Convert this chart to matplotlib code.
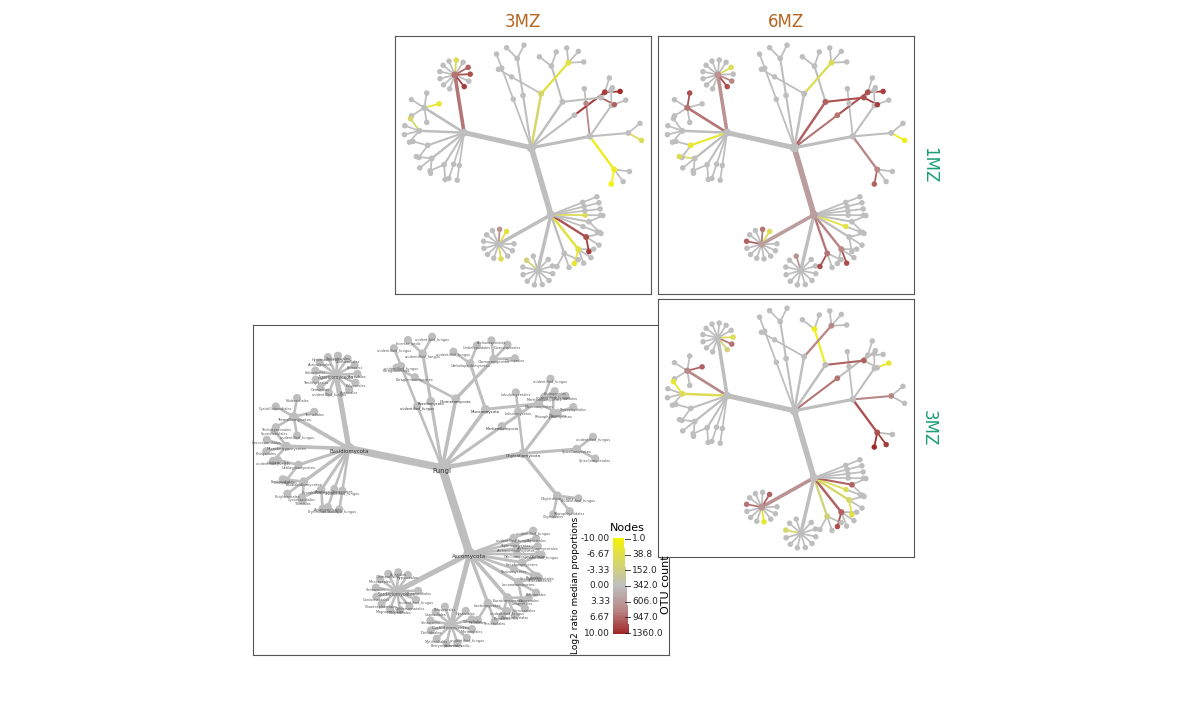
import numpy as np
import matplotlib.pyplot as plt
from matplotlib.colors import LinearSegmentedColormap

# taxonomy: phylum -> class -> orders
tree = {
    "Ascomycota": {
        "Sordariomycetes": ["Hypocreales", "Xylariales", "Glomerellales", "Microascales", "Sordariales",
                            "Coniochaetales", "Chaetosphaeriales", "Magnaporthales", "Diaporthales",
                            "Ophiostomatales", "unidentified_fungus", "Myrmecridiales"],
        "Dothideomycetes": ["Pleosporales", "Capnodiales", "Venturiales", "Dothideales", "Mytilinidiales",
                            "Botryosphaeriales", "Incertae_sedis", "unidentified_fungus", "Myriangiales",
                            "Tubeufiales", "Hysteriales"],
        "Leotiomycetes": ["Helotiales", "Thelebolales", "unidentified_fungus"],
        "Eurotiomycetes": ["Eurotiales", "Chaetothyriales", "Verrucariales", "Onygenales"],
        "Lecanoromycetes": ["Lecanorales", "Peltigerales", "Teloschistales"],
        "Pezizomycetes": ["Pezizales"],
        "Saccharomycetes": ["Saccharomycetales", "unidentified_fungus"],
        "Orbiliomycetes": ["Orbiliales"],
        "Archaeorhizomycetes": ["Archaeorhizomycetales"],
        "Taphrinomycetes": ["Taphrinales"],
        "unidentified_fungus": ["unidentified_fungus"],
    },
    "Chytridiomycota": {
        "Chytridiomycetes": ["Chytridiales", "Rhizophlyctidales", "unidentified_fungus"],
        "Spizellomycetes": ["Spizellomycetales", "unidentified_fungus"],
        "Rhizophydiomycetes": ["Rhizophydiales", "unidentified_fungus"],
        "Lobulomycetes": ["Lobulomycetales"],
    },
    "Mortierellomycota": {"Mortierellomycetes": ["Mortierellales", "unidentified_fungus"]},
    "Mucoromycota": {"Mucoromycetes": ["Mucorales", "Endogonales"],
                     "Umbelopsidomycetes": ["Umbelopsidales", "unidentified_fungus"]},
    "Glomeromycota": {"Glomeromycetes": ["Glomerales", "Diversisporales", "Archaeosporales"],
                      "Paraglomeromycetes": ["Paraglomerales"]},
    "Rozellomycota": {"unidentified_fungus": ["unidentified_fungus", "Incertae_sedis"]},
    "unidentified_fungus": {"unidentified_fungus": ["unidentified_fungus"]},
    "Basidiomycota": {
        "Agaricomycetes": ["Agaricales", "Polyporales", "Russulales", "Boletales", "Cantharellales",
                           "Thelephorales", "Hymenochaetales", "Auriculariales", "Sebacinales",
                           "Trechisporales", "Geastrales", "unidentified_fungus"],
        "Tremellomycetes": ["Tremellales", "Filobasidiales", "Cystofilobasidiales", "Trichosporonales",
                            "unidentified_fungus"],
        "Microbotryomycetes": ["Sporidiobolales", "Leucosporidiales", "Kriegeriales", "unidentified_fungus"],
        "Ustilaginomycetes": ["Ustilaginales", "Urocystidales"],
        "Exobasidiomycetes": ["Exobasidiales", "Entylomatales", "Tilletiales"],
        "Cystobasidiomycetes": ["Cystobasidiales", "Erythrobasidiales"],
        "Agaricostilbomycetes": ["Agaricostilbales"],
        "unidentified_fungus": ["unidentified_fungus"],
    },
}

panel_rows = ["1MZ", "1MZ", "3MZ"]
panel_cols = ["3MZ", "6MZ", "6MZ"]

# log2 ratio of median proportions (nodes not listed are ~0)
diff_3_1 = {
    "Basidiomycota/Agaricomycetes": 6, "Basidiomycota/Agaricomycetes/Agaricales": 9,
    "Basidiomycota/Agaricomycetes/Russulales": 8, "Basidiomycota/Agaricomycetes/Boletales": 7,
    "Basidiomycota/Agaricomycetes/Thelephorales": -6, "Basidiomycota/Tremellomycetes/Tremellales": -8,
    "Basidiomycota/Microbotryomycetes/Sporidiobolales": -5,
    "Chytridiomycota/Chytridiomycetes": -9, "Chytridiomycota/Chytridiomycetes/Chytridiales": -10,
    "Chytridiomycota/Spizellomycetes/Spizellomycetales": -6, "Chytridiomycota/Lobulomycetes": 5,
    "Mortierellomycota/Mortierellomycetes": 9, "Mortierellomycota/Mortierellomycetes/Mortierellales": 10,
    "Mucoromycota/Mucoromycetes/Mucorales": 7, "Glomeromycota": -5, "Glomeromycota/Glomeromycetes": -7,
    "Ascomycota/Lecanoromycetes": 8, "Ascomycota/Lecanoromycetes/Lecanorales": 9,
    "Ascomycota/Eurotiomycetes": -7, "Ascomycota/Eurotiomycetes/Eurotiales": -8,
    "Ascomycota/Sordariomycetes/Hypocreales": -7, "Ascomycota/Sordariomycetes/Xylariales": 4,
    "Ascomycota/Sordariomycetes/Diaporthales": -6, "Ascomycota/Dothideomycetes/Capnodiales": -4,
    "Ascomycota/Orbiliomycetes": -6,
}
diff_6_1 = {
    "Basidiomycota/Agaricomycetes": 4, "Basidiomycota/Agaricomycetes/Agaricales": 8,
    "Basidiomycota/Agaricomycetes/Polyporales": 5, "Basidiomycota/Agaricomycetes/Boletales": -6,
    "Basidiomycota/Tremellomycetes": 6, "Basidiomycota/Tremellomycetes/Filobasidiales": 8,
    "Basidiomycota/Ustilaginomycetes": -8, "Basidiomycota/Exobasidiomycetes/Exobasidiales": -6,
    "Chytridiomycota/Chytridiomycetes": 5, "Chytridiomycota/Chytridiomycetes/Chytridiales": 7,
    "Chytridiomycota/Spizellomycetes/Spizellomycetales": -9,
    "Mortierellomycota": 6, "Mortierellomycota/Mortierellomycetes": 8,
    "Mortierellomycota/Mortierellomycetes/Mortierellales": 9, "Mucoromycota": 7,
    "Mucoromycota/Mucoromycetes": 8, "Mucoromycota/Mucoromycetes/Mucorales": 9,
    "Glomeromycota/Glomeromycetes": -6, "Ascomycota": 3, "Ascomycota/Leotiomycetes": 6,
    "Ascomycota/Leotiomycetes/Helotiales": 8, "Ascomycota/Eurotiomycetes": 5,
    "Ascomycota/Eurotiomycetes/Chaetothyriales": 8, "Ascomycota/Sordariomycetes": 3,
    "Ascomycota/Sordariomycetes/Hypocreales": -6, "Ascomycota/Sordariomycetes/Xylariales": 6,
    "Ascomycota/Sordariomycetes/Sordariales": 7, "Ascomycota/Pezizomycetes": -7,
    "Ascomycota/Dothideomycetes/Pleosporales": 4,
}
diff_6_3 = {
    "Basidiomycota/Agaricomycetes/Agaricales": -4, "Basidiomycota/Agaricomycetes/Polyporales": 6,
    "Basidiomycota/Agaricomycetes/Russulales": -6, "Basidiomycota/Tremellomycetes": 5,
    "Basidiomycota/Tremellomycetes/Tremellales": 7, "Basidiomycota/Microbotryomycetes": -6,
    "Basidiomycota/Microbotryomycetes/Sporidiobolales": -8,
    "Chytridiomycota/Chytridiomycetes": 8, "Chytridiomycota/Chytridiomycetes/Chytridiales": 10,
    "Chytridiomycota/Chytridiomycetes/Rhizophlyctidales": 9, "Chytridiomycota/Spizellomycetes": 5,
    "Chytridiomycota/Rhizophydiomycetes/Rhizophydiales": -8, "Mortierellomycota": 6,
    "Mucoromycota/Mucoromycetes": 7, "Mucoromycota/Umbelopsidomycetes": -9,
    "Glomeromycota/Glomeromycetes": 5, "Ascomycota/Leotiomycetes": -4,
    "Ascomycota/Eurotiomycetes": 7, "Ascomycota/Eurotiomycetes/Eurotiales": 8,
    "Ascomycota/Lecanoromycetes": -5, "Ascomycota/Lecanoromycetes/Lecanorales": -7,
    "Ascomycota/Sordariomycetes": 4, "Ascomycota/Sordariomycetes/Hypocreales": 7,
    "Ascomycota/Sordariomycetes/Sordariales": 6, "Ascomycota/Sordariomycetes/Diaporthales": -8,
    "Ascomycota/Saccharomycetes": 7, "Ascomycota/Pezizomycetes": -6,
    "Ascomycota/Dothideomycetes/Venturiales": -5,
}
panel_diffs = [diff_3_1, diff_6_1, diff_6_3]

legend_left = ["-10.00", "-6.67", "-3.33", "0.00", "3.33", "6.67", "10.00"]
legend_right = ["1.0", "38.8", "152.0", "342.0", "606.0", "947.0", "1360.0"]

cmap = LinearSegmentedColormap.from_list("ht", ["#f2f20a", "#d6d66a", "#bebebe", "#b98888", "#a22a2a"])


# ---- build a radial layout ----
def n_leaves(sub):
    if isinstance(sub, dict):
        return sum(n_leaves(v) for v in sub.values())
    if isinstance(sub, list):
        return max(len(sub), 1)
    return 1


nodes = []  # (key, name, x, y, parent_index, leaves, depth)


def place(name, sub, key, x, y, ang, spread, depth, parent):
    idx = len(nodes)
    nodes.append((key, name, x, y, parent, n_leaves(sub) if sub is not None else 1, depth))
    if sub is None:
        return
    items = list(sub.items()) if isinstance(sub, dict) else [(c, None) for c in sub]
    k = len(items)
    w = np.array([(n_leaves(s) if s is not None else 1) ** 0.75 for _, s in items])
    if depth == 0:
        edges = np.concatenate([[0], np.cumsum(w)]) / w.sum() * spread
        angs = ang + (edges[:-1] + edges[1:]) / 2
    elif k == 1:
        angs = np.array([ang])
    else:
        edges = np.concatenate([[0], np.cumsum(w)]) / w.sum() * spread
        angs = ang - spread / 2 + (edges[:-1] + edges[1:]) / 2
    for (cname, csub), a in zip(items, angs):
        nl = n_leaves(csub) if csub is not None else 1
        if depth == 0:
            L, sp = 0.42 + 0.03 * np.sqrt(nl), np.radians(200)
        elif depth == 1:
            L, sp = 0.20 + 0.09 * np.sqrt(nl), (np.radians(330) if nl >= 5 else np.radians(140))
        else:
            L, sp = 0.13, 0
        ckey = key + "/" + cname if key else cname
        place(cname, csub, ckey, x + L * np.cos(a), y + L * np.sin(a), a, sp, depth + 1, idx)


place("Fungi", tree, "", 0.0, 0.0, np.radians(-140), 2 * np.pi, 0, None)

xs = np.array([n[2] for n in nodes])
ys = np.array([n[3] for n in nodes])
leaves = np.array([n[5] for n in nodes])


def draw_tree(ax, diffs, labels=False, scale=1.0):
    vals = np.array([diffs.get(n[0], 0) for n in nodes])
    cols = cmap((vals + 10) / 20)
    for i, n in enumerate(nodes):
        p = n[4]
        if p is None:
            continue
        lw = (1.0 + 0.7 * np.sqrt(leaves[i])) * scale
        ax.plot([xs[p], xs[i]], [ys[p], ys[i]], color=cols[i], lw=lw, solid_capstyle="round", zorder=1)
    ax.scatter(xs, ys, s=(22 + 6 * np.sqrt(leaves)) * scale ** 2, c=cols, zorder=2, linewidths=0)
    if labels:
        for i, n in enumerate(nodes):
            fs = 2.2 + 0.3 * np.sqrt(leaves[i])
            ax.text(xs[i], ys[i] - 0.02, n[1], fontsize=min(fs, 5.5),
                    ha="center", va="center", color="#333333" if n[6] < 2 else "#555555", zorder=3)
    pad = 0.08
    ax.set_xlim(xs.min() - pad, xs.max() + pad)
    ax.set_ylim(ys.min() - pad, ys.max() + pad)
    ax.set_xticks([])
    ax.set_yticks([])
    for s in ax.spines.values():
        s.set_color("#555555")
        s.set_linewidth(0.8)


W, H = 1200, 702
fig = plt.figure(figsize=(12, 7.02), dpi=100)


def box(x0, y0, x1, y1):
    return [x0 / W, 1 - y1 / H, (x1 - x0) / W, (y1 - y0) / H]


panel_boxes = [box(395, 36, 651, 294), box(658, 36, 914, 294), box(658, 299, 914, 557)]
axk = fig.add_axes(box(253, 325, 669, 655))
draw_tree(axk, {}, labels=True, scale=1.1)
axk.set_xlim(xs.min() - 0.08, xs.max() + 0.45)

for b, d in zip(panel_boxes, panel_diffs):
    ax = fig.add_axes(b)
    draw_tree(ax, d, scale=0.75)

# column / row strip labels
fig.text(523 / W, 1 - 22 / H, "3MZ", color="#b5651d", fontsize=12, ha="center", va="center")
fig.text(786 / W, 1 - 22 / H, "6MZ", color="#b5651d", fontsize=12, ha="center", va="center")
fig.text(929 / W, 1 - 165 / H, "1MZ", color="#1b9e77", fontsize=12, ha="center", va="center", rotation=-90)
fig.text(929 / W, 1 - 428 / H, "3MZ", color="#1b9e77", fontsize=12, ha="center", va="center", rotation=-90)

# legend: wedge colour scale
axl = fig.add_axes(box(598, 538, 660, 634))
axl.set_xlim(0, 62)
axl.set_ylim(0, 1)
axl.axis("off")
nb = 60
for j in range(nb):
    t = j / (nb - 1)
    wdt = 11 + 5 * t
    axl.barh(1 - (j + 0.5) / nb, wdt, height=1.0 / nb + 0.002, left=15, color=cmap(t), lw=0)
pos = np.linspace(1 - 0.5 / nb, 0.5 / nb, len(legend_left))
for yv, ll, rl in zip(pos, legend_left, legend_right):
    axl.text(12, yv, ll, ha="right", va="center", fontsize=6.5, color="#222222")
    axl.plot([27, 32], [yv, yv], color="#222222", lw=0.6)
    axl.text(34, yv, rl, ha="left", va="center", fontsize=6.5, color="#222222")
fig.text(627 / W, 1 - 528 / H, "Nodes", fontsize=8, ha="center", va="center")
fig.text(576 / W, 1 - 585 / H, "Log2 ratio median proportions", fontsize=6.5, rotation=90, ha="center", va="center")
fig.text(666 / W, 1 - 585 / H, "OTU count", fontsize=8, rotation=90, ha="center", va="center")

fig.savefig("out.png", dpi=100)
